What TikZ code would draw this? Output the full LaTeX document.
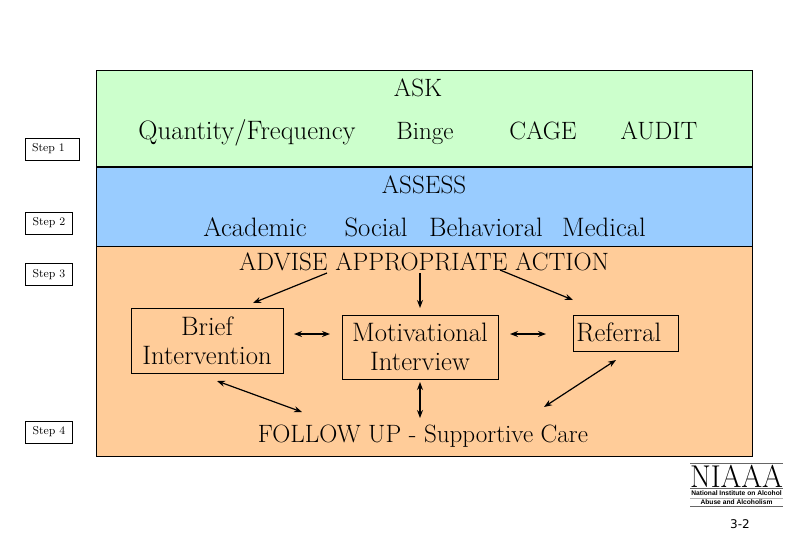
\documentclass[tikz,border=0pt]{standalone}
\usepackage{fontspec}
\newfontfamily\pagefont{DejaVu Sans}
\newfontfamily\logofont{Liberation Sans}
\usetikzlibrary{arrows.meta}
\definecolor{askgreen}{HTML}{CCFFCC}
\definecolor{assessblue}{HTML}{99CCFF}
\definecolor{adviseorange}{HTML}{FFCC99}
\tikzset{
    panel/.style={draw=black,line width=0.75pt},
    stepbox/.style={draw=black,line width=0.6pt,anchor=west,minimum height=16.5pt,inner sep=0pt,font=\fontsize{8.6}{10}\selectfont},
    bigtext/.style={inner sep=0pt,anchor=base,font=\fontsize{20}{24}\selectfont},
    capstext/.style={inner sep=0pt,anchor=base,font=\fontsize{18.8}{22}\selectfont},
    actionbox/.style={draw=black,line width=0.6pt,align=center,inner sep=0pt,font=\fontsize{20}{21.75}\selectfont},
    oneway/.style={-{Stealth[length=6pt,width=4.5pt]},line width=0.9pt},
    twoway/.style={{Stealth[length=6pt,width=4.5pt]}-{Stealth[length=6pt,width=4.5pt]},line width=0.9pt},
    logotext/.style={inner sep=0pt,font=\logofont\bfseries\fontsize{5}{6}\selectfont}
}
\begin{document}
\begin{tikzpicture}[x=0.75pt,y=-0.75pt]
    \useasboundingbox (0,0) rectangle (810,540);
    \fill[white] (0,0) rectangle (810,540);
    \draw[panel,fill=adviseorange] (96,246) rectangle (752,456);
    \draw[panel,fill=assessblue] (96,167) rectangle (752,246);
    \draw[panel,fill=askgreen] (96,70) rectangle (752,167);
    \draw[line width=1.2pt] (96,167) -- (752,167);

    \node[stepbox,minimum width=40.5pt] (step1) at (25,149) {\hspace*{-6pt}Step 1};
    \node[stepbox,minimum width=35.25pt] (step2) at (25,223) {Step 2};
    \node[stepbox,minimum width=35.25pt] (step3) at (25,274.5) {Step 3};
    \node[stepbox,minimum width=35.25pt] (step4) at (25,432) {Step 4};

    \node[capstext] (ask) at (418,96) {ASK};
    \node[bigtext] (quantity) at (247,139) {Quantity/Frequency};
    \node[capstext] (binge) at (425,139) {Binge};
    \node[capstext] (cage) at (543,139) {CAGE};
    \node[capstext] (audit) at (659,139) {AUDIT};
    \node[capstext] (assess) at (424,193) {ASSESS};
    \node[bigtext] (academic) at (255,236) {Academic};
    \node[bigtext] (social) at (376,236) {Social};
    \node[bigtext] (behavioral) at (486,236) {Behavioral};
    \node[bigtext] (medical) at (604,236) {Medical};
    \node[capstext] (advise) at (424,270) {ADVISE APPROPRIATE ACTION};
    \node[actionbox,minimum width=114pt,minimum height=48.75pt] (brief) at (207,340.5) {Brief\\Intervention};
    \node[actionbox,minimum width=117pt,minimum height=48pt] (motivational) at (420,347) {Motivational\\Interview};
    \node[actionbox,minimum width=78.75pt,minimum height=27pt] (referral) at (625.5,333) {\hspace*{-10pt}\raisebox{1.5pt}{Referral}};
    \node[capstext] (followup) at (423,442) {FOLLOW UP - Supportive Care};

    \coordinate (adviseleft) at (327,273);
    \coordinate (briefup) at (253,303);
    \coordinate (advisemid) at (420,273);
    \coordinate (motivup) at (420,308);
    \coordinate (adviseright) at (500,270);
    \coordinate (referralup) at (573,300);
    \coordinate (briefright) at (294,334);
    \coordinate (motivleft) at (330,334);
    \coordinate (motivright) at (510,334);
    \coordinate (referralleft) at (546,334);
    \coordinate (briefdown) at (217,381);
    \coordinate (followleft) at (302,412);
    \coordinate (motivdown) at (420,382);
    \coordinate (followmid) at (420,418);
    \coordinate (referraldown) at (616,360);
    \coordinate (followright) at (544,407);

    \draw[oneway] (adviseleft) -- (briefup);
    \draw[oneway] (advisemid) -- (motivup);
    \draw[oneway] (adviseright) -- (referralup);
    \draw[twoway] (briefright) -- (motivleft);
    \draw[twoway] (motivright) -- (referralleft);
    \draw[twoway] (briefdown) -- (followleft);
    \draw[twoway] (motivdown) -- (followmid);
    \draw[twoway] (referraldown) -- (followright);

    \draw[line width=0.4pt,black!60] (690,463) -- (783,463);
    \node[inner sep=0pt,yscale=1.05,transform shape] (niaaa) at (736.5,476) {\fontsize{22.5}{24}\selectfont NIAAA};
    \draw[line width=0.4pt,black!60] (690,488) -- (783,488);
    \node[logotext] (institute) at (736.5,493.5) {National Institute on Alcohol};
    \fill[black!30] (690,497.5) rectangle (783,499);
    \node[logotext] (abuse) at (736.5,502.5) {Abuse and Alcoholism};
    \draw[line width=0.4pt,black!60] (690,506.5) -- (783,506.5);
    \node[inner sep=0pt] (pagenum) at (740,524) {\pagefont\fontsize{9}{10}\selectfont 3-2};
\end{tikzpicture}
\end{document}
